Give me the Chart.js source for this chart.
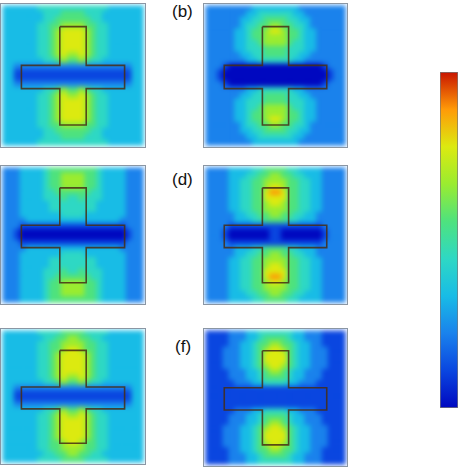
<!DOCTYPE html>
<html>
<head>
<meta charset="utf-8">
<script src="https://cdn.jsdelivr.net/npm/chart.js@4"></script>
<style>
  body { margin: 0; background: #fff; width: 474px; height: 474px; position: relative; overflow: hidden; font-family: "Liberation Sans", Arial, sans-serif; }
  .panel { position: absolute; box-sizing: border-box; border: 1px solid #8a96a4; overflow: hidden; }
  .panel canvas { position: absolute; left: 0; top: 0; }
  .heat { filter: blur(2.6px); transform: scale(1.04); }
  .lbl { position: absolute; font-size: 17px; color: #111; }
  #bar { position: absolute; left: 436px; top: 68px; width: 26px; height: 344px; }
</style>
</head>
<body>
<div class="lbl" style="left:172px;top:2px">(b)</div>
<div class="lbl" style="left:172px;top:170px">(d)</div>
<div class="lbl" style="left:175px;top:337px">(f)</div>
<div id="bar"><canvas id="cbar"></canvas></div>
<script>
// jet-like colour levels 0..9
const jetColors = ['#0008c0', '#0a46e0', '#1a82ec', '#18bce6', '#2ed8c4', '#4ee27e', '#9aec30', '#dcea10', '#ff9a08', '#c81400'];

// top half of each field map, 12 cols from left edge to centre (mirrored)
const heatA = ['333333444444','333333344455','333333344555','333333445566','333333445677','333333445677',
               '333333445677','333333445677','333333445676','333333344565','332222222222','331111111111'];
const heatB = ['222222223333','222222233444','222222334455','222222344556','222223345567','222223345566',
               '222223344566','222223344455','222222334455','222222233444','222100000000','221000000000'];
const heatC = ['222333345555','222333345566','222333345566','222333345566','222333344555','222333344454',
               '222333334444','222333334444','222333333344','222233333333','222111111111','221000000000'];
const heatD = ['222233334455','222233344556','222233445566','222233445567','222233445578','222233445577',
               '222233445567','222233445566','222223344556','222223334455','222211111111','222100000001'];
const heatE = ['333333444455','333333344556','333333445566','333333445567','333333445677','333333445677',
               '333333445677','333333445677','333333445676','333333344565','332222222222','331111111111'];
const heatF = ['111122233444','111122233455','111122334556','111222334567','111222334577','111222334577',
               '111222334567','111122233456','111122233455','111112223344','111111111111','111111111111'];

// cross outline in grid units (24 x 24, y downwards)
const crossX = [9.8, 14.2, 14.2, 20.6, 20.6, 14.2, 14.2, 9.8, 9.8, 3.4, 3.4, 9.8, 9.8];
const crossY = [3.8, 3.8, 10.3, 10.3, 14.2, 14.2, 20.3, 20.3, 14.2, 14.2, 10.3, 10.3, 3.8];

const panels = [
  { heat: heatA, left: 0,   top: 3,   w: 146, h: 145 },
  { heat: heatB, left: 203, top: 3,   w: 145, h: 145 },
  { heat: heatC, left: 0,   top: 165, w: 146, h: 140 },
  { heat: heatD, left: 203, top: 165, w: 145, h: 140 },
  { heat: heatE, left: 0,   top: 328, w: 146, h: 137 },
  { heat: heatF, left: 203, top: 328, w: 145, h: 139 }
];

const N = 24;
const hiddenScales = {
  x: { type: 'linear', min: 0, max: N, display: false },
  y: { type: 'linear', min: 0, max: N, reverse: true, display: false }
};

function fullGrid(half) {
  const rows = half.map(s => s + s.split('').reverse().join(''));
  return rows.concat(rows.slice().reverse());
}

function makeCanvas(div, cls) {
  const c = document.createElement('canvas');
  c.className = cls;
  c.width = div.clientWidth; c.height = div.clientHeight;
  c.style.width = div.clientWidth + 'px'; c.style.height = div.clientHeight + 'px';
  div.appendChild(c);
  return c;
}

panels.forEach(p => {
  const div = document.createElement('div');
  div.className = 'panel';
  Object.assign(div.style, { left: p.left + 'px', top: p.top + 'px', width: p.w + 'px', height: p.h + 'px' });
  document.body.appendChild(div);

  const pts = [], cols = [];
  fullGrid(p.heat).forEach((row, r) => {
    row.split('').forEach((ch, c) => {
      pts.push({ x: c + 0.5, y: r + 0.5 });
      cols.push(jetColors[+ch]);
    });
  });

  new Chart(makeCanvas(div, 'heat'), {
    type: 'scatter',
    data: { datasets: [{ data: pts, backgroundColor: cols, borderWidth: 0, pointStyle: 'rect',
      pointRadius: ctx => {
        const a = ctx.chart.chartArea;
        return a ? Math.max(a.width, a.height) / N / 1.414 * 1.15 : 3;
      } }] },
    options: { responsive: false, animation: false, events: [], layout: { padding: 0 },
      scales: hiddenScales, plugins: { legend: { display: false }, tooltip: { enabled: false } } }
  });

  new Chart(makeCanvas(div, 'line'), {
    type: 'scatter',
    data: { datasets: [{ data: crossX.map((x, i) => ({ x: x, y: crossY[i] })), showLine: true,
      borderColor: 'rgba(70,45,20,0.85)', borderWidth: 1.6, pointRadius: 0, fill: false }] },
    options: { responsive: false, animation: false, events: [], layout: { padding: 0 },
      scales: hiddenScales, plugins: { legend: { display: false }, tooltip: { enabled: false } } }
  });
});

// colour bar
const barLevels = [1];
new Chart(document.getElementById('cbar'), {
  type: 'bar',
  data: { labels: [''], datasets: [{ data: barLevels, borderColor: '#777', borderWidth: 1, borderSkipped: false,
    barPercentage: 1, categoryPercentage: 1,
    backgroundColor: ctx => {
      const a = ctx.chart.chartArea;
      if (!a) return jetColors[5];
      const g = ctx.chart.ctx.createLinearGradient(0, a.bottom, 0, a.top);
      jetColors.forEach((c, i) => g.addColorStop(i / (jetColors.length - 1), c));
      return g;
    } }] },
  options: { responsive: true, maintainAspectRatio: false, animation: false, events: [],
    layout: { padding: { left: 4, right: 4, top: 4, bottom: 4 } },
    scales: { x: { display: false }, y: { display: false, min: 0, max: 1 } },
    plugins: { legend: { display: false }, tooltip: { enabled: false } } }
});
</script>
</body>
</html>
